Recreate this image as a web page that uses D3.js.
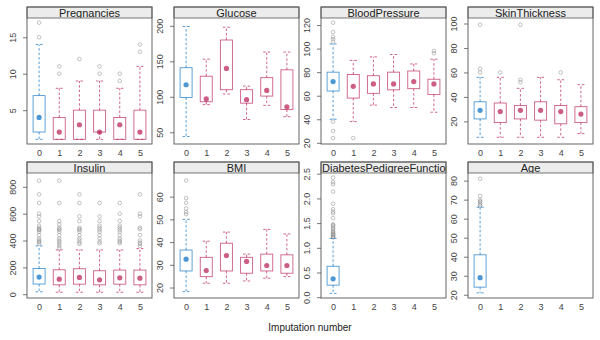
<!DOCTYPE html>
<html>
<head>
<meta charset="utf-8">
<script src="https://cdn.jsdelivr.net/npm/d3@7"></script>
<style>
  body { margin: 0; background: #fff; }
  text { font-family: "Liberation Sans", Arial, sans-serif; }
</style>
</head>
<body>
<svg width="600" height="340"></svg>
<script>
/* ===============================
   Data: box stats [lo, q1, median, q3, hi] per imputation
   =============================== */
let imputations = [0, 1, 2, 3, 4, 5];
let panelNames = ["Pregnancies", "Glucose", "BloodPressure", "SkinThickness",
                  "Insulin", "BMI", "DiabetesPedigreeFunction", "Age"];

let pregnanciesStats = [[1, 2, 4, 7, 14], [1, 1, 2, 4, 8], [1, 1, 3, 5, 9],
                        [1, 2, 2, 5, 9], [1, 1, 3, 4, 8], [1, 1, 2, 5, 11]];
let pregnanciesOut = [[15, 17], [10, 11], [12], [10, 11], [9, 10], [13, 14]];

let glucoseStats = [[44, 99, 117, 141, 199], [89, 93, 97, 129, 153], [104, 110, 140, 180, 198],
                    [68, 91, 96, 110, 115], [88, 101, 109, 127, 163], [72, 82, 86, 138, 163]];
let glucoseOut = [[], [], [], [], [], []];

let bloodPressureStats = [[40, 64, 72, 80, 104], [38, 58, 68, 78, 90], [52, 62, 70, 77, 93],
                          [50, 65, 70, 80, 95], [50, 66, 72, 81, 87], [46, 61, 70, 74, 91]];
let bloodPressureOut = [[24, 30, 38, 106, 108, 110, 114, 122], [24], [], [], [], [96, 98]];

let skinStats = [[7, 22, 29, 36, 56], [7, 19, 28, 35, 56], [7, 22, 29, 33, 47],
                 [7, 21, 29, 36, 56], [7, 18, 28, 33, 54], [10, 19, 26, 32, 50]];
let skinOut = [[60, 63, 99], [60], [52, 54, 99], [], [60], []];

let insulinStats = [[18, 76, 128, 192, 360], [15, 70, 112, 182, 330], [15, 75, 125, 190, 330],
                    [15, 70, 107, 175, 330], [15, 75, 122, 180, 330], [15, 70, 120, 180, 340]];
let insulinOut = [
    [375, 387, 392, 402, 415, 440, 465, 478, 480, 485, 495, 510, 545, 579, 600, 680, 744, 846],
    [345, 360, 375, 390, 400, 415, 440, 465, 480, 485, 495, 520, 545, 680, 846],
    [375, 385, 400, 415, 440, 465, 480, 485, 495, 545, 580, 680, 744],
    [380, 392, 415, 440, 465, 480, 495, 510, 545, 580, 680],
    [380, 390, 400, 415, 440, 465, 480, 495, 510, 545, 600, 680],
    [360, 375, 385, 400, 440, 485, 495, 580, 600, 744]
];

let bmiStats = [[18.2, 27.3, 32.5, 36.5, 50], [21.9, 24.8, 27.5, 33.3, 40.4], [21.9, 27.3, 34.1, 39.5, 44.4],
                [22.9, 26.3, 31.5, 33.3, 34.7], [24.1, 27.3, 29.7, 34.7, 45.6], [24.8, 26.3, 29.7, 34.4, 43.6]];
let bmiOut = [[52.3, 53.2, 54.8, 57.3, 59.4, 67.1], [], [], [], [], []];

let pedigreeStats = [[0.078, 0.244, 0.372, 0.626, 1.191]];
let pedigreeOut = [[1.213, 1.222, 1.224, 1.251, 1.258, 1.268, 1.282, 1.292, 1.318, 1.321, 1.353,
                    1.39, 1.4, 1.441, 1.461, 1.476, 1.6, 1.698, 1.731, 1.781, 1.893, 2.137,
                    2.288, 2.329, 2.42]];

let ageStats = [[21, 24, 29, 41, 66]];
let ageOut = [[67, 67, 68, 69, 69, 70, 72, 81]];

/* ===============================
   Axis limits and tick labels
   =============================== */
let yLimits = [[0.36, 17.64], [33.5, 211], [19, 126], [1.5, 104.5],
               [-28, 903], [15.4, 70.4], [-0.016, 2.514], [18.3, 84]];
let yTicks = [[5, 10, 15], [50, 100, 150, 200], [20, 40, 60, 80, 100, 120], [20, 40, 60, 80, 100],
              [0, 200, 400, 600, 800], [20, 30, 40, 50, 60], [0, 0.5, 1, 1.5, 2, 2.5],
              [20, 30, 40, 50, 60, 70, 80]];
let yTickFormat = [null, null, null, null, null, null, d3.format(".1f"), null];

let allStats = [pregnanciesStats, glucoseStats, bloodPressureStats, skinStats,
                insulinStats, bmiStats, pedigreeStats, ageStats];
let allOut = [pregnanciesOut, glucoseOut, bloodPressureOut, skinOut,
              insulinOut, bmiOut, pedigreeOut, ageOut];

/* ===============================
   Layout
   =============================== */
let colLeft = [27, 174, 321, 468];
let panelW = 125;
let stripTop = [7, 162];
let stripH = 11;
let plotBottom = [144, 298];

let blueCol = "#006CC2";
let redCol = "#B61A51";
let frameCol = "#555";
let tickTextCol = "#444";

let svg = d3.select("svg");
let defs = svg.append("defs");

let x = d3.scaleLinear().domain([-0.6, 5.6]);

panelNames.forEach(function (name, i) {
    let row = Math.floor(i / 4);
    let col = i % 4;
    let left = colLeft[col];
    let top = stripTop[row] + stripH;
    let bottom = plotBottom[row];

    let xs = x.copy().range([left, left + panelW]);
    let ys = d3.scaleLinear().domain(yLimits[i]).range([bottom, top]);

    let g = svg.append("g");

    /* --- strip --- */
    defs.append("clipPath").attr("id", "clip" + i)
        .append("rect")
        .attr("x", left).attr("y", stripTop[row])
        .attr("width", panelW).attr("height", stripH);

    g.append("rect")
        .attr("x", left)
        .attr("y", stripTop[row])
        .attr("width", panelW)
        .attr("height", stripH)
        .attr("fill", "#ececec")
        .attr("stroke", frameCol)
        .attr("stroke-width", 0.8);

    let label = g.append("text")
        .attr("clip-path", "url(#clip" + i + ")")
        .attr("x", left + panelW / 2)
        .attr("y", stripTop[row] + stripH - 1.5)
        .attr("text-anchor", "middle")
        .attr("font-size", 11)
        .attr("fill", "#222")
        .text(name);
    if (label.node().getComputedTextLength() > panelW - 2) {
        label.attr("x", left + 1).attr("text-anchor", "start");
    }

    /* --- y axis (rotated labels, ticks outside) --- */
    let yAxis = d3.axisLeft(ys)
        .tickValues(yTicks[i])
        .tickSize(4)
        .tickPadding(3);
    if (yTickFormat[i]) yAxis.tickFormat(yTickFormat[i]);
    let ya = g.append("g")
        .attr("transform", "translate(" + left + ",0)")
        .call(yAxis);
    ya.select(".domain").remove();
    ya.selectAll("line").attr("stroke", frameCol).attr("stroke-width", 0.8);
    ya.selectAll("text")
        .attr("font-size", 9)
        .attr("fill", tickTextCol)
        .attr("text-anchor", "middle")
        .attr("x", null)
        .attr("dy", null)
        .attr("transform", "translate(-11,0) rotate(-90)");

    /* --- x axis --- */
    let xAxis = d3.axisBottom(xs)
        .tickValues(imputations)
        .tickFormat(d3.format("d"))
        .tickSize(0)
        .tickPadding(6);
    let xa = g.append("g")
        .attr("transform", "translate(0," + bottom + ")")
        .call(xAxis);
    xa.select(".domain").remove();
    xa.selectAll("text").attr("font-size", 9).attr("fill", tickTextCol);

    /* --- outliers --- */
    allOut[i].forEach(function (vals, k) {
        g.selectAll(null)
            .data(vals)
            .enter()
            .append("circle")
            .attr("cx", xs(imputations[k]))
            .attr("cy", d => ys(d))
            .attr("r", 1.8)
            .attr("fill", "none")
            .attr("stroke", "#999")
            .attr("stroke-width", 0.6);
    });

    /* --- boxes --- */
    let halfBox = 6;
    let halfCap = 3.5;
    allStats[i].forEach(function (s, k) {
        let cx = xs(imputations[k]);
        let c = k === 0 ? blueCol : redCol;

        // whiskers
        g.append("line")
            .attr("x1", cx).attr("x2", cx)
            .attr("y1", ys(s[3])).attr("y2", ys(s[4]))
            .attr("stroke", c).attr("stroke-opacity", 0.75)
            .attr("stroke-width", 0.9)
            .attr("stroke-dasharray", "2.5,2");
        g.append("line")
            .attr("x1", cx).attr("x2", cx)
            .attr("y1", ys(s[1])).attr("y2", ys(s[0]))
            .attr("stroke", c).attr("stroke-opacity", 0.75)
            .attr("stroke-width", 0.9)
            .attr("stroke-dasharray", "2.5,2");

        // caps
        [s[0], s[4]].forEach(function (v) {
            g.append("line")
                .attr("x1", cx - halfCap).attr("x2", cx + halfCap)
                .attr("y1", ys(v)).attr("y2", ys(v))
                .attr("stroke", c).attr("stroke-opacity", 0.75)
                .attr("stroke-width", 0.9)
                .attr("stroke-dasharray", "2.5,2");
        });

        // box
        g.append("rect")
            .attr("x", cx - halfBox)
            .attr("y", ys(s[3]))
            .attr("width", halfBox * 2)
            .attr("height", ys(s[1]) - ys(s[3]))
            .attr("fill", "none")
            .attr("stroke", c).attr("stroke-opacity", 0.7)
            .attr("stroke-width", 0.9);

        // median dot
        g.append("circle")
            .attr("cx", cx)
            .attr("cy", ys(s[2]))
            .attr("r", 2.6)
            .attr("fill", c)
            .attr("fill-opacity", 0.7);
    });

    /* --- panel frame --- */
    g.append("rect")
        .attr("x", left)
        .attr("y", stripTop[row])
        .attr("width", panelW)
        .attr("height", bottom - stripTop[row])
        .attr("fill", "none")
        .attr("stroke", frameCol)
        .attr("stroke-width", 0.9);
});

/* ===============================
   X axis title
   =============================== */
svg.append("text")
    .attr("x", 310)
    .attr("y", 331)
    .attr("text-anchor", "middle")
    .attr("font-size", 10)
    .attr("fill", "#222")
    .text("Imputation number");
</script>
</body>
</html>
